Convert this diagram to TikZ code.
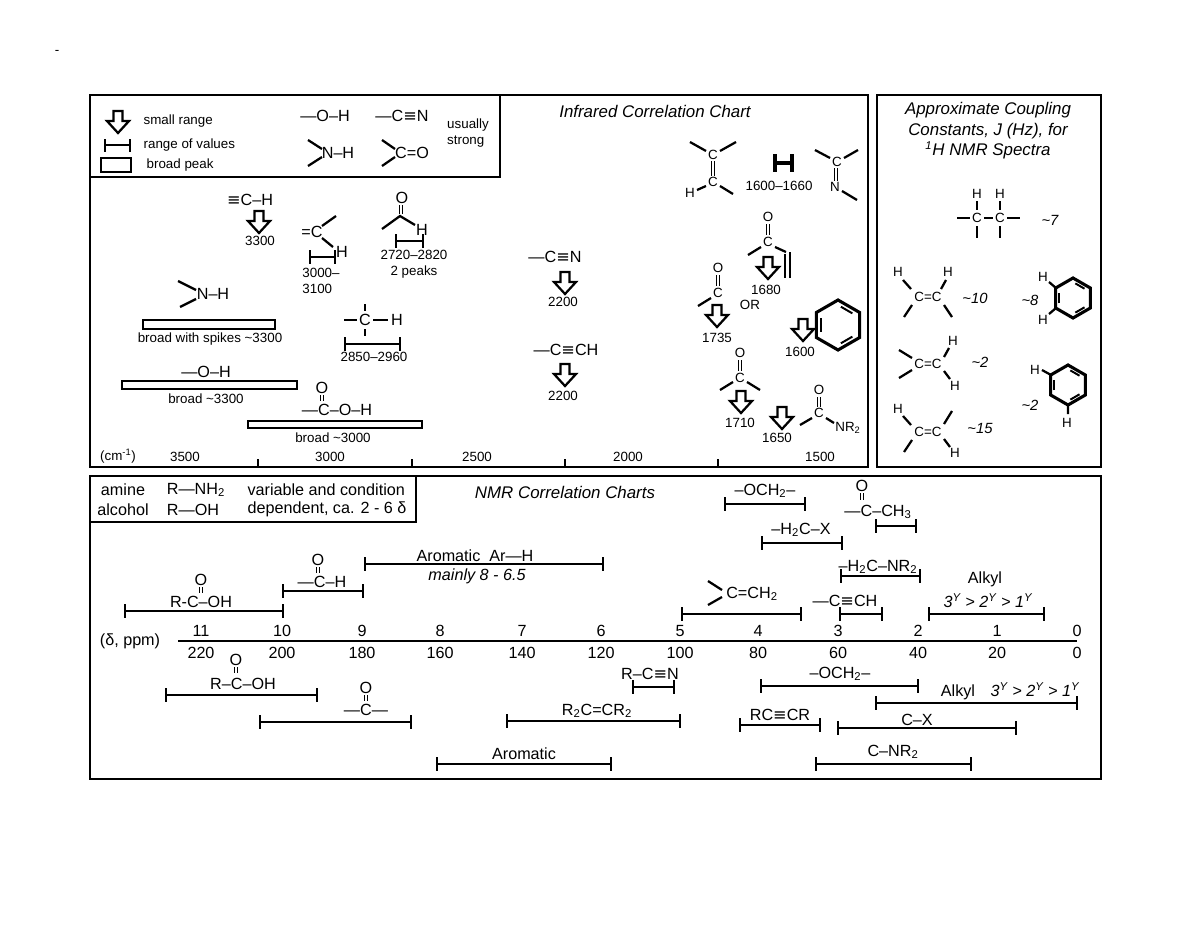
\documentclass[tikz,border=0pt]{standalone}
\usepackage{fontspec}
\setmainfont{Liberation Sans}
\newfontfamily\djv{DejaVu Sans}
\newcommand\tb{{\djv ≡}}
\newcommand\sub[1]{\textsubscript{#1}}
\newcommand\sy{\textsuperscript{Y}}
% hollow arrow, range bar, carbonyl bond, benzene
\newcommand\hollow[2]{\draw[line width=1.6pt] (#1-4.5,#2-11) -- (#1+4.5,#2-11) -- (#1+4.5,#2-1) -- (#1+11,#2-1) -- (#1,#2+11) -- (#1-11,#2-1) -- (#1-4.5,#2-1) -- cycle;}
\newcommand\rbar[3]{\draw[rng] (#1,#3-7) -- (#1,#3+7) (#1,#3) -- (#2,#3) (#2,#3-7) -- (#2,#3+7);}
\newcommand\dbv[3]{\draw[line width=1.1pt] (#1-1.6,#2) -- (#1-1.6,#3) (#1+1.6,#2) -- (#1+1.6,#3);}
\newcommand\benz[3]{\draw[line width=2.2pt] (#1,#2) +(90:#3) -- +(150:#3) -- +(210:#3) -- +(270:#3) -- +(330:#3) -- +(30:#3) -- cycle;
  \foreach \a in {30,150,270} \draw[line width=1.4pt] (#1,#2) +(\a+9:{0.74*#3}) -- +(\a+51:{0.74*#3});}
\begin{document}
\begin{tikzpicture}[x=0.025cm,y=-0.025cm,
  every node/.style={font=\fontsize{9.5}{11}\selectfont, inner sep=1pt},
  big/.style={font=\fontsize{11.5}{13}\selectfont},
  ital/.style={font=\fontsize{10.5}{12.5}\selectfont\itshape},
  title/.style={font=\fontsize{12}{14.5}\selectfont\itshape},
  bond/.style={line width=1.6pt},
  rng/.style={line width=1.8pt},
  frame/.style={line width=2pt}]
\useasboundingbox (0,0) rectangle (1200,927);
\node at (57,52) {-};

% ---- infrared chart
\draw[frame] (90,95) rectangle (868,467);
\draw[frame] (90,95) rectangle (500,177);
\hollow{118}{122}
\node[anchor=west] (lsmall) at (142,121) {small range};
\draw[rng] (105,139) -- (105,152) (105,145) -- (130,145) (130,139) -- (130,152);
\node[anchor=west] (lrange) at (142,145) {range of values};
\draw[line width=1.5pt] (101,158) rectangle (131,172);
\node[anchor=west] (lbroad) at (145,165) {broad peak};
\node[big] (loh) at (325,116) {—O–H};
\node[big] (lcn) at (402,116) {—C\tb N};
\node[big] (lnh) at (338,153) {N–H};
\draw[bond] (308,140) -- (322,149) (308,166) -- (322,157);
\node[big] (lco) at (412,153) {C=O};
\draw[bond] (382,140) -- (395,149) (382,166) -- (395,157);
\node[align=left] (lstrong) at (468,133) {usually\\strong};
\node[title] (irtitle) at (655,111) {Infrared Correlation Chart};

\node[big] (ch) at (250,200) {\djv ≡\rmfamily C–H};
\hollow{259}{222}
\node (n3300) at (260,241) {3300};
\node[big] (vc) at (312,232) {=C};
\draw[bond] (322,226) -- (336,216) (322,238) -- (333,247);
\node[big] (vh) at (342,252) {H};
\rbar{310}{335}{257}
\node[align=left] (n3000) at (321,281) {3000–\\3100};
\draw[bond] (382,229) -- (400,216) -- (415,225);
\node[big] (aldo) at (402,198) {O};
\dbv{401}{205}{214}
\node[big] (aldh) at (422,230) {H};
\rbar{396}{423}{241}
\node[align=center] (n2720) at (414,264) {2720–2820\\2 peaks};
\node[big] (nh) at (213,294) {N–H};
\draw[bond] (178,281) -- (196,290) (180,307) -- (196,299);
\draw[line width=1.5pt] (143,320) rectangle (275,329);
\node (spk) at (210,339) {broad with spikes \textasciitilde 3300};
\node[big] (mec) at (365,320) {C};
\draw[bond] (344,320) -- (357,320) (373,320) -- (388,320) (365,304) -- (365,311) (365,329) -- (365,336);
\node[big] (meh) at (397,320) {H};
\rbar{345}{400}{344}
\node (n2850) at (374,357) {2850–2960};
\node[big] (oh) at (206,372) {—O–H};
\draw[line width=1.5pt] (122,381) rectangle (297,389);
\node (b3300) at (206,399) {broad \textasciitilde 3300};
\node[big] (acid) at (337,410) {—C–O–H};
\node[big] (acido) at (322,388) {O};
\dbv{322}{395}{401}
\draw[line width=1.5pt] (248,421) rectangle (422,428);
\node (b3000) at (333,438) {broad \textasciitilde 3000};

\node[big] (cn) at (555,257) {—C\tb N};
\hollow{565}{283}
\node (n2200a) at (563,302) {2200};
\node[big] (cch) at (566,350) {—C\tb CH};
\hollow{565}{375}
\node (n2200b) at (563,396) {2200};

\node (ac1) at (713,155) {C};
\node (ac2) at (713,182) {C};
\dbv{713}{161}{176}
\draw[bond] (690,142) -- (706,151) (736,142) -- (720,151) (720,186) -- (733,194) (697,190) -- (706,186);
\node (ach) at (690,193) {H};
\draw[line width=2.6pt] (775,154) -- (775,172) (775,163) -- (792,163) (792,154) -- (792,172);
\node (n1600r) at (779,186) {1600–1660};
\node (cnc) at (837,162) {C};
\node (cnn) at (835,187) {N};
\dbv{836}{168}{181}
\draw[bond] (815,150) -- (830,158) (858,150) -- (844,158) (842,191) -- (857,200);

\node (enc) at (768,242) {C};
\node (eno) at (768,217) {O};
\dbv{768}{224}{235}
\draw[bond] (748,255) -- (761,247) (775,247) -- (786,252);
\draw[line width=1.2pt] (785,254) -- (785,278) (790,252) -- (790,278);
\hollow{768}{268}
\node (n1680) at (766,290) {1680};
\node (esc) at (718,293) {C};
\node (eso) at (718,268) {O};
\dbv{718}{275}{286}
\draw[bond] (698,306) -- (711,298);
\node (esr) at (750,305) {OR};
\hollow{717}{316}
\node (n1735) at (717,338) {1735};
\benz{838}{325}{25}
\hollow{803}{330}
\node (n1600) at (800,352) {1600};
\node (kc) at (740,378) {C};
\node (ko) at (740,353) {O};
\dbv{740}{360}{371}
\draw[bond] (720,390) -- (733,382) (747,382) -- (760,390);
\hollow{741}{402}
\node (n1710) at (740,423) {1710};
\hollow{782}{418}
\node (n1650) at (777,438) {1650};
\node (amc) at (819,413) {C};
\node (amo) at (819,390) {O};
\dbv{819}{397}{407}
\draw[bond] (800,425) -- (812,418) (826,418) -- (834,423);
\node (amn) at (848,428) {NR\sub{2}};

\node (cmunit) at (118,456) {(cm\textsuperscript{-1})};
\foreach \x/\t in {185/3500,330/3000,477/2500,628/2000,820/1500}
  \node at (\x,457) {\t};
\foreach \x in {258,412,565,718}
  \draw[line width=1.6pt] (\x,467) -- (\x,459);

% ---- coupling constants
\draw[frame] (877,95) rectangle (1101,467);
\node[title,align=center] (jtitle) at (988,131) {Approximate Coupling\\Constants, J (Hz), for\\\textsuperscript{1}H NMR Spectra};
\node (eh1) at (977,194) {H}; \node (eh2) at (1000,194) {H};
\node (ec1) at (977,218) {C}; \node (ec2) at (1000,218) {C};
\draw[bond] (957,218) -- (970,218) (984,218) -- (993,218) (1007,218) -- (1020,218)
  (977,201) -- (977,210) (1000,201) -- (1000,210) (977,226) -- (977,238) (1000,226) -- (1000,238);
\node[ital] (j7) at (1050,220) {\textasciitilde 7};
\node (cis) at (928,297) {C=C};
\node at (898,272) {H}; \node at (948,272) {H};
\draw[bond] (903,280) -- (911,289) (946,280) -- (941,289) (912,305) -- (904,317) (944,305) -- (952,317);
\node[ital] (j10) at (975,298) {\textasciitilde 10};
\benz{1073}{298}{20}
\draw[bond] (1056,288) -- (1049,282) (1056,308) -- (1049,314);
\node at (1043,277) {H}; \node at (1043,320) {H};
\node[ital] (j8) at (1030,300) {\textasciitilde 8};
\node (gem) at (928,364) {C=C};
\draw[bond] (899,350) -- (912,358) (899,378) -- (912,370) (949,348) -- (944,357) (944,371) -- (950,379);
\node at (953,341) {H}; \node at (955,386) {H};
\node[ital] (j2a) at (980,362) {\textasciitilde 2};
\benz{1068}{385}{20}
\draw[bond] (1051,375) -- (1042,370) (1068,405) -- (1068,414);
\node at (1035,370) {H}; \node at (1067,423) {H};
\node[ital] (j2b) at (1030,405) {\textasciitilde 2};
\node (trans) at (928,432) {C=C};
\draw[bond] (903,416) -- (911,425) (912,440) -- (904,452) (944,424) -- (952,411) (944,439) -- (950,447);
\node at (898,409) {H}; \node at (955,453) {H};
\node[ital] (j15) at (980,428) {\textasciitilde 15};

% ---- nmr charts
\draw[frame] (90,476) rectangle (1101,779);
\draw[frame] (90,476) rectangle (416,522);
\node[big] at (123,490) {amine}; \node[big] at (196,490) {R—NH\sub{2}};
\node[big] at (123,510) {alcohol}; \node[big] at (193,510) {R—OH};
\node[big,align=left] (varnote) at (327,500) {variable and condition\\dependent, ca. 2 - 6 δ};
\node[title] (nmrtitle) at (565,492) {NMR Correlation Charts};

\draw[line width=2pt] (178,641) -- (1077,641);
\node[big] (ppm) at (130,641) {(δ, ppm)};
\foreach \x/\h/\c in {201/11/220,282/10/200,362/9/180,440/8/160,522/7/140,601/6/120,680/5/100,758/4/80,838/3/60,918/2/40,997/1/20,1077/0/0}{
  \node[big] at (\x,631) {\h};
  \node[big] at (\x,653) {\c};}

% proton ranges
\rbar{125}{283}{611}
\node[big] at (201,602) {R-C–OH}; \node[big] at (201,580) {O}; \dbv{201}{587}{593}
\rbar{283}{363}{591}
\node[big] at (322,582) {—C–H}; \node[big] at (318,560) {O}; \dbv{318}{567}{573}
\rbar{365}{603}{564}
\node[big] at (475,556) {Aromatic\ \ Ar—H};
\node[font=\fontsize{11.5}{13}\selectfont\itshape] at (477,576) {mainly 8 - 6.5};
\rbar{725}{805}{504}
\node[big] at (765,491) {–OCH\sub{2}–};
\node[big] at (878,512) {—C–CH\sub{3}}; \node[big] at (862,486) {O}; \dbv{862}{493}{500}
\rbar{876}{916}{526}
\rbar{762}{842}{543}
\node[big] at (801,530) {–H\sub{2}C–X};
\rbar{841}{920}{576}
\node[big] at (878,567) {–H\sub{2}C–NR\sub{2}};
\node[big] at (752,594) {C=CH\sub{2}};
\draw[bond] (708,581) -- (722,590) (708,605) -- (722,597);
\rbar{682}{801}{614}
\node[big] at (845,601) {—C\tb CH};
\rbar{840}{882}{614}
\node[big] at (985,579) {Alkyl};
\node[font=\fontsize{11.5}{13}\selectfont\itshape] at (988,601) {3\sy\ > 2\sy\ > 1\sy};
\rbar{929}{1044}{614}

% carbon ranges
\node[big] at (243,684) {R–C–OH}; \node[big] at (236,660) {O}; \dbv{236}{667}{673}
\rbar{166}{317}{695}
\node[big] at (366,710) {—C—}; \node[big] at (366,688) {O}; \dbv{366}{695}{701}
\rbar{260}{411}{722}
\node[big] at (650,674) {R–C\tb N};
\rbar{633}{674}{687}
\node[big] at (597,711) {R\sub{2}C=CR\sub{2}};
\rbar{507}{680}{721}
\node[big] at (524,754) {Aromatic};
\rbar{437}{611}{764}
\node[big] at (840,674) {–OCH\sub{2}–};
\rbar{761}{918}{686}
\node[big] at (958,692) {Alkyl};
\node[font=\fontsize{11.5}{13}\selectfont\itshape] at (1035,690) {3\sy\ > 2\sy\ > 1\sy};
\rbar{876}{1077}{703}
\node[big] at (780,715) {RC\tb CR};
\rbar{740}{820}{725}
\node[big] at (917,720) {C–X};
\rbar{838}{1016}{728}
\node[big] at (893,752) {C–NR\sub{2}};
\rbar{816}{971}{764}
\end{tikzpicture}
\end{document}
